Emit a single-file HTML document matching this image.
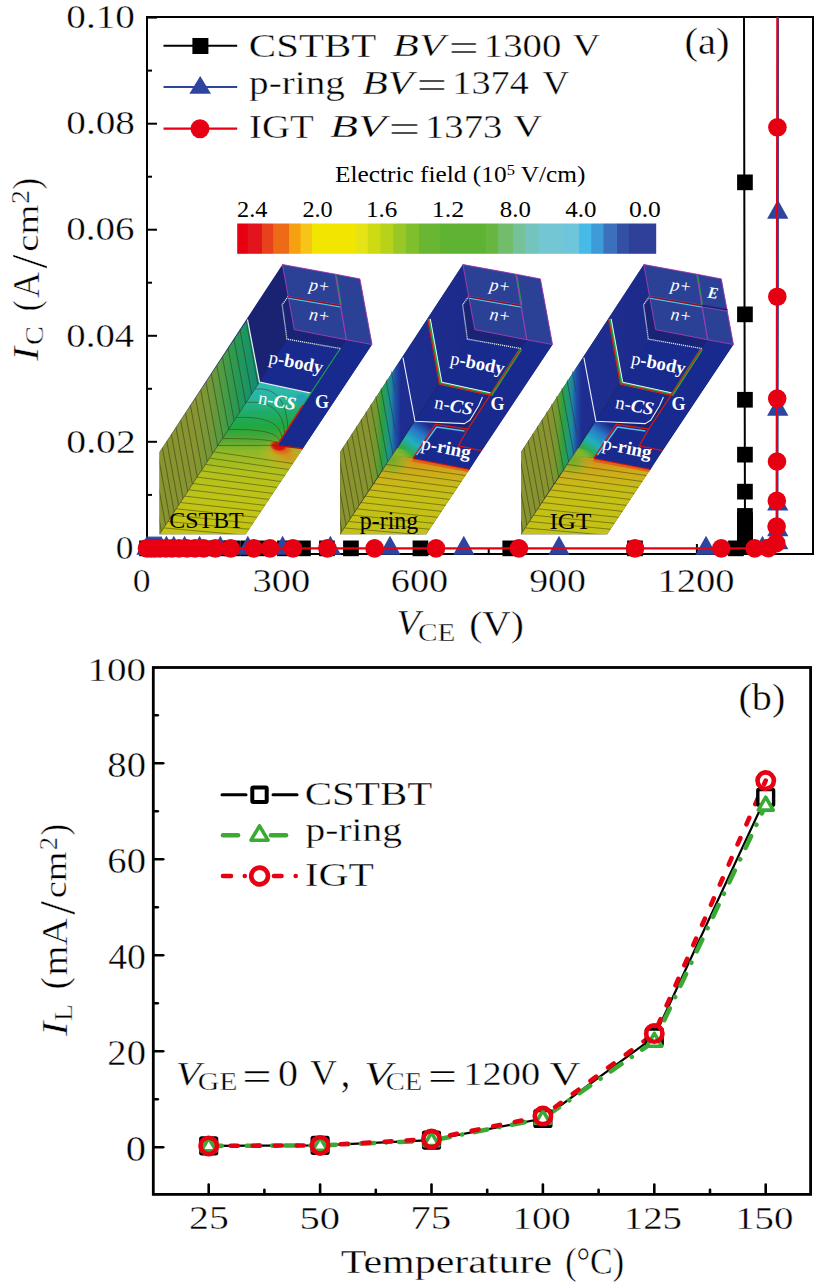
<!DOCTYPE html><html><head><meta charset="utf-8"><style>html,body{margin:0;padding:0;background:#fff;}svg{display:block;font-family:"Liberation Serif",serif;}</style></head><body><svg width="814" height="1282" viewBox="0 0 814 1282">
<rect width="814" height="1282" fill="#fff"/>
<defs><linearGradient id="lfa" gradientUnits="userSpaceOnUse" x1="159.6" y1="0" x2="262" y2="0"><stop offset="0" stop-color="#8a9330"/><stop offset="0.35" stop-color="#879532"/><stop offset="0.5" stop-color="#74983a"/><stop offset="0.62" stop-color="#4c9c44"/><stop offset="0.74" stop-color="#2a9a52"/><stop offset="0.86" stop-color="#1a9468"/><stop offset="1" stop-color="#128a78"/></linearGradient><linearGradient id="ffa" gradientUnits="userSpaceOnUse" x1="0" y1="534.2" x2="0" y2="386"><stop offset="0" stop-color="#c4c412"/><stop offset="0.22" stop-color="#c0c418"/><stop offset="0.42" stop-color="#b2c01e"/><stop offset="0.56" stop-color="#90b828"/><stop offset="0.64" stop-color="#52a836"/><stop offset="0.72" stop-color="#22a840"/><stop offset="0.82" stop-color="#20ac68"/><stop offset="0.92" stop-color="#28b6a0"/><stop offset="1" stop-color="#30bab0"/></linearGradient><radialGradient id="hsa" gradientUnits="userSpaceOnUse" cx="280" cy="449" r="26" gradientTransform="translate(280 449) scale(1 0.62) translate(-280 -449)"><stop offset="0" stop-color="#d01010"/><stop offset="0.22" stop-color="#d41414"/><stop offset="0.36" stop-color="#e04a18" stop-opacity="0.95"/><stop offset="0.6" stop-color="#d8a020" stop-opacity="0.6"/><stop offset="1" stop-color="#c8c020" stop-opacity="0"/></radialGradient><clipPath id="cfa"><polygon points="159.6,534.2 245.8,534.2 372.0,344.5 294.3,329.6"/></clipPath><clipPath id="cla"><polygon points="159.6,451.9 159.6,534.2 294.3,329.6 282.4,264.5"/></clipPath></defs>
<polygon points="159.6,534.2 159.6,451.9 282.4,264.5 359.9,278.9 372.0,344.5 245.8,534.2" fill="#1a2372"/>
<polygon points="159.6,451.9 159.6,534.2 259.5,382.1 247.5,319.5" fill="url(#lfa)"/>
<polygon points="159.6,534.2 245.8,534.2 303.1,448.2 277.0,445.5 311.0,393.2 259.5,382.1" fill="url(#ffa)"/>
<ellipse cx="301" cy="399" rx="6" ry="5" fill="#2a90d0" opacity="0.45" clip-path="url(#cfa)"/>
<radialGradient id="h1a"><stop offset="0" stop-color="#e08a1c" stop-opacity="0.85"/><stop offset="0.5" stop-color="#d8a820" stop-opacity="0.5"/><stop offset="1" stop-color="#c8c020" stop-opacity="0"/></radialGradient>
<radialGradient id="h2a"><stop offset="0" stop-color="#e04418" stop-opacity="1"/><stop offset="0.6" stop-color="#e06a1a" stop-opacity="0.7"/><stop offset="1" stop-color="#e09020" stop-opacity="0"/></radialGradient>
<radialGradient id="h3a"><stop offset="0" stop-color="#d00c10" stop-opacity="1"/><stop offset="0.65" stop-color="#d41410" stop-opacity="0.95"/><stop offset="1" stop-color="#d83010" stop-opacity="0"/></radialGradient>
<g clip-path="url(#cfa)">
<ellipse cx="288" cy="456" rx="31" ry="17" fill="url(#h1a)" transform="rotate(12 288 456)"/>
<ellipse cx="281" cy="448.5" rx="14" ry="8" fill="url(#h2a)" transform="rotate(10 281 448.5)"/>
<ellipse cx="278.5" cy="446" rx="9" ry="5.5" fill="url(#h3a)" transform="rotate(10 278.5 446)"/>
</g>
<g stroke="#3c3c0c" stroke-width="0.7" opacity="0.75" clip-path="url(#cfa)"><line x1="135.6" y1="538.6" x2="305.6" y2="553.1"/><line x1="131.5" y1="544.8" x2="301.5" y2="559.2"/><line x1="143.8" y1="526.1" x2="313.8" y2="541.4"/><line x1="148.0" y1="519.6" x2="318.0" y2="535.8"/><line x1="152.1" y1="513.2" x2="322.1" y2="530.2"/><line x1="156.3" y1="506.7" x2="326.3" y2="524.6"/><line x1="160.5" y1="500.3" x2="330.5" y2="519.0"/><line x1="164.7" y1="493.8" x2="334.7" y2="513.4"/><line x1="168.8" y1="487.4" x2="338.8" y2="507.8"/><line x1="173.0" y1="481.0" x2="343.0" y2="502.2"/><line x1="177.2" y1="474.5" x2="347.2" y2="496.6"/><line x1="181.4" y1="468.1" x2="351.4" y2="491.0"/><line x1="185.5" y1="461.6" x2="355.5" y2="485.4"/><line x1="189.7" y1="455.2" x2="359.7" y2="479.8"/><line x1="193.9" y1="448.8" x2="363.9" y2="474.2"/><path d="M193.1,442.5 L218.1,445.5 Q275.3,445.5 277.3,445.1" fill="none"/><path d="M197.7,435.5 L222.7,438.5 Q276.1,438.5 278.1,443.8" fill="none"/><path d="M203.6,426.5 L228.6,429.5 Q277.7,428.5 279.7,441.3" fill="none"/><path d="M211.5,414.5 L236.5,417.5 Q279.9,415.5 281.9,438.0" fill="none"/><path d="M221.5,399.4 L246.5,402.4 Q282.7,399.4 284.7,433.8" fill="none"/><path d="M230.3,386.0 L255.3,389.0 Q285.9,386.0 287.9,428.8" fill="none"/></g>
<clipPath id="clla"><polygon points="159.6,451.9 159.6,534.2 259.5,382.1 247.5,319.5"/></clipPath>
<g stroke="#2c3410" stroke-width="0.7" opacity="0.75" clip-path="url(#clla)"><line x1="163.0" y1="540" x2="109.9" y2="250.2"/><line x1="168.3" y1="540" x2="115.2" y2="250.2"/><line x1="173.7" y1="540" x2="120.6" y2="250.2"/><line x1="179.3" y1="540" x2="126.2" y2="250.2"/><line x1="184.9" y1="540" x2="131.8" y2="250.2"/><line x1="190.7" y1="540" x2="137.6" y2="250.2"/><line x1="196.6" y1="540" x2="143.5" y2="250.2"/><line x1="202.6" y1="540" x2="149.5" y2="250.2"/><line x1="208.8" y1="540" x2="155.7" y2="250.2"/><line x1="215.1" y1="540" x2="162.0" y2="250.2"/><line x1="221.6" y1="540" x2="168.5" y2="250.2"/><line x1="228.2" y1="540" x2="175.1" y2="250.2"/><line x1="234.9" y1="540" x2="181.8" y2="250.2"/><line x1="241.8" y1="540" x2="188.7" y2="250.2"/><line x1="248.8" y1="540" x2="195.7" y2="250.2"/><line x1="256.0" y1="540" x2="202.9" y2="250.2"/><line x1="263.3" y1="540" x2="210.2" y2="250.2"/><line x1="270.8" y1="540" x2="217.7" y2="250.2"/><line x1="278.5" y1="540" x2="225.4" y2="250.2"/><line x1="286.4" y1="540" x2="233.3" y2="250.2"/><line x1="294.4" y1="540" x2="241.3" y2="250.2"/><line x1="302.6" y1="540" x2="249.5" y2="250.2"/><line x1="310.9" y1="540" x2="257.8" y2="250.2"/><line x1="319.5" y1="540" x2="266.4" y2="250.2"/><line x1="328.2" y1="540" x2="275.1" y2="250.2"/><line x1="337.2" y1="540" x2="284.1" y2="250.2"/></g>
<line x1="159.6" y1="534.2" x2="259.5" y2="382.1" stroke="#2a3010" stroke-width="0.6" opacity="0.6"/>
<polygon points="287.5,339.1 340.3,348.5 311.0,393.2 259.5,382.1" fill="#182a8e"/>
<polygon points="346.4,339.8 372.0,344.5 303.1,448.2 277.0,445.5 340.3,348.5" fill="#182a8e"/>
<polyline points="247.5,319.5 259.5,382.1 311.0,393.2" fill="none" stroke="#e8f0f0" stroke-width="1.2"/>
<line x1="340.3" y1="348.5" x2="303" y2="405" stroke="#20a040" stroke-width="1.2"/>
<line x1="303" y1="405" x2="277" y2="445.5" stroke="#d02010" stroke-width="1.4"/>
<line x1="277" y1="445.5" x2="303" y2="448.5" stroke="#b01010" stroke-width="1.6"/>
<polygon points="288.2,296.5 282.2,304.6 286.9,339.1 340.3,348.5 346.4,339.8 294.3,329.6" fill="#1a2476"/>
<polyline points="288.2,296.5 282.2,304.6 286.9,339.1 340.3,348.5" fill="none" stroke="#d8e8e8" stroke-width="1.3" stroke-dasharray="1.2 0.8"/>
<polygon points="282.4,264.5 335.5,274.2 340.3,305.3 288.2,296.5" fill="#2b4196" stroke="#a83cb4" stroke-width="0.9"/>
<polygon points="288.2,296.5 340.3,305.3 346.4,339.8 294.3,329.6" fill="#2b4196" stroke="#a83cb4" stroke-width="0.9"/>
<polygon points="335.5,274.2 359.9,278.9 372.0,344.5 346.4,339.8" fill="#2b4196" stroke="#a83cb4" stroke-width="0.9"/>
<line x1="288.2" y1="296.8" x2="340.3" y2="305.6" stroke="#8a1010" stroke-width="1.2"/>
<line x1="288.5" y1="298.3" x2="340.3" y2="307" stroke="#50d0f0" stroke-width="1.1"/>
<line x1="336.5" y1="276" x2="341.3" y2="305" stroke="#20a040" stroke-width="0.9"/>
<text x="308.5" y="290" fill="#fff" font-family="Liberation Serif" font-size="17.5" font-style="italic" textLength="21" lengthAdjust="spacingAndGlyphs" transform="rotate(8 308.5 290)">p+</text>
<text x="308.5" y="319.5" fill="#fff" font-family="Liberation Serif" font-size="17.5" font-style="italic" textLength="21" lengthAdjust="spacingAndGlyphs" transform="rotate(8 308.5 319.5)">n+</text>
<text x="268" y="363" fill="#fff" font-family="Liberation Serif" font-size="18.5" font-weight="bold" textLength="55" lengthAdjust="spacingAndGlyphs" transform="rotate(11 268 363)"><tspan font-weight="normal">p</tspan>-body</text>
<text x="257.5" y="403.5" fill="#fff" font-family="Liberation Serif" font-size="18.5" textLength="38" lengthAdjust="spacingAndGlyphs" transform="rotate(10.5 257.5 403.5)">n-<tspan font-weight="bold" font-style="italic">CS</tspan></text>
<text x="315" y="407.5" fill="#fff" font-family="Liberation Serif" font-size="18" font-weight="bold">G</text>
<defs><linearGradient id="lfb" gradientUnits="userSpaceOnUse" x1="340.1" y1="0" x2="474.8" y2="0"><stop offset="0" stop-color="#8a9330"/><stop offset="0.22" stop-color="#889432"/><stop offset="0.27" stop-color="#6f9a30"/><stop offset="0.31" stop-color="#2ea040"/><stop offset="0.35" stop-color="#1f9a7a"/><stop offset="0.38" stop-color="#1c86a8"/><stop offset="0.41" stop-color="#2050a8"/><stop offset="0.45" stop-color="#1e2e90"/><stop offset="1" stop-color="#1c2a8a"/></linearGradient><linearGradient id="ffb" gradientUnits="userSpaceOnUse" x1="0" y1="534.2" x2="0" y2="460"><stop offset="0" stop-color="#c3c216"/><stop offset="0.5" stop-color="#c5c018"/><stop offset="0.7" stop-color="#c9b81a"/><stop offset="0.85" stop-color="#cfaa1a"/><stop offset="0.95" stop-color="#d6961a"/><stop offset="1" stop-color="#d88a1a"/></linearGradient><radialGradient id="hsb" gradientUnits="userSpaceOnUse" cx="460.5" cy="449" r="26" gradientTransform="translate(460.5 449) scale(1 0.62) translate(-460.5 -449)"><stop offset="0" stop-color="#d01010"/><stop offset="0.22" stop-color="#d41414"/><stop offset="0.36" stop-color="#e04a18" stop-opacity="0.95"/><stop offset="0.6" stop-color="#d8a020" stop-opacity="0.6"/><stop offset="1" stop-color="#c8c020" stop-opacity="0"/></radialGradient><clipPath id="cfb"><polygon points="340.1,534.2 426.3,534.2 552.5,344.5 474.8,329.6"/></clipPath><clipPath id="clb"><polygon points="340.1,451.9 340.1,534.2 474.8,329.6 462.9,264.5"/></clipPath></defs>
<polygon points="340.1,534.2 340.1,451.9 462.9,264.5 540.4,278.9 552.5,344.5 426.3,534.2" fill="#1a2372"/>
<polygon points="340.1,451.9 340.1,534.2 474.8,329.6 462.9,264.5" fill="url(#lfb)"/>
<polygon points="340.1,534.2 426.3,534.2 469.9,468.9 413.1,458.1 392.8,455.4" fill="url(#ffb)"/>
<linearGradient id="trb" gradientUnits="userSpaceOnUse" x1="394.5" y1="457" x2="420.5" y2="420"><stop offset="0" stop-color="#a8c020"/><stop offset="0.25" stop-color="#30a840"/><stop offset="0.5" stop-color="#20b0c0"/><stop offset="0.75" stop-color="#2878c8"/><stop offset="1" stop-color="#1f2c8e"/></linearGradient>
<polygon points="392.8,455.4 413.1,458.1 435.4,424.3 415.1,420.9" fill="url(#trb)"/>
<radialGradient id="gzb" gradientUnits="userSpaceOnUse" cx="392.5" cy="460" r="22"><stop offset="0" stop-color="#60b030" stop-opacity="0.9"/><stop offset="0.5" stop-color="#90b828" stop-opacity="0.6"/><stop offset="1" stop-color="#c0c020" stop-opacity="0"/></radialGradient>
<ellipse cx="392.5" cy="462" rx="24" ry="14" fill="url(#gzb)" clip-path="url(#cfb)"/>
<polygon points="413.1,458.1 469.9,468.9 468.0,472.0 412.0,461.5" fill="#d86018" opacity="0.9"/>
<line x1="413.1" y1="458.1" x2="469.9" y2="468.9" stroke="#d01010" stroke-width="2"/>
<g stroke="#3c3c0c" stroke-width="0.7" opacity="0.75" clip-path="url(#cfb)"><line x1="316.1" y1="538.6" x2="486.1" y2="553.1"/><line x1="312.0" y1="544.8" x2="482.0" y2="559.2"/><line x1="324.3" y1="526.1" x2="494.3" y2="541.4"/><line x1="328.5" y1="519.6" x2="498.5" y2="535.8"/><line x1="332.6" y1="513.2" x2="502.6" y2="530.2"/><line x1="336.8" y1="506.7" x2="506.8" y2="524.6"/><line x1="341.0" y1="500.3" x2="511.0" y2="519.0"/><line x1="345.2" y1="493.8" x2="515.2" y2="513.4"/><line x1="349.3" y1="487.4" x2="519.3" y2="507.8"/><line x1="353.5" y1="481.0" x2="523.5" y2="502.2"/><line x1="357.7" y1="474.5" x2="527.7" y2="496.6"/><line x1="361.9" y1="468.1" x2="531.9" y2="491.0"/><line x1="366.0" y1="461.6" x2="536.0" y2="485.4"/></g>
<clipPath id="cllb"><polygon points="340.1,451.9 340.1,534.2 396.0,449.0 394.5,366.5"/></clipPath>
<g stroke="#2c3410" stroke-width="0.7" opacity="0.75" clip-path="url(#cllb)"><line x1="343.5" y1="540" x2="290.4" y2="250.2"/><line x1="348.8" y1="540" x2="295.7" y2="250.2"/><line x1="354.2" y1="540" x2="301.1" y2="250.2"/><line x1="359.8" y1="540" x2="306.7" y2="250.2"/><line x1="365.4" y1="540" x2="312.3" y2="250.2"/><line x1="371.2" y1="540" x2="318.1" y2="250.2"/><line x1="377.1" y1="540" x2="324.0" y2="250.2"/><line x1="383.1" y1="540" x2="330.0" y2="250.2"/><line x1="389.3" y1="540" x2="336.2" y2="250.2"/><line x1="395.6" y1="540" x2="342.5" y2="250.2"/><line x1="402.1" y1="540" x2="349.0" y2="250.2"/><line x1="408.7" y1="540" x2="355.6" y2="250.2"/><line x1="415.4" y1="540" x2="362.3" y2="250.2"/><line x1="422.3" y1="540" x2="369.2" y2="250.2"/><line x1="429.3" y1="540" x2="376.2" y2="250.2"/><line x1="436.5" y1="540" x2="383.4" y2="250.2"/><line x1="443.8" y1="540" x2="390.7" y2="250.2"/></g>
<line x1="340.1" y1="534.2" x2="440.0" y2="382.1" stroke="#2a3010" stroke-width="0.6" opacity="0.6"/>
<polygon points="413.1,458.1 435.4,424.3 467.8,429.1 458.4,445.9 481.4,450.7 469.9,468.9" fill="#182a8e"/>
<polygon points="415.1,420.9 467.8,423.6 520.8,348.5 468.0,339.1" fill="#182a8e"/>
<polygon points="526.9,339.8 552.5,344.5 481.4,450.7 458.4,445.9 467.8,429.1 520.8,348.5" fill="#182a8e"/>
<polyline points="413.1,458.1 435.4,424.3 467.8,429.1 458.4,445.9 481.4,450.7" fill="none" stroke="#d01818" stroke-width="1.3"/>
<polyline points="416.5,455.0 436.5,427.0 464.5,431.0" fill="none" stroke="#60d0e8" stroke-width="1.4" opacity="0.9"/>
<polyline points="403.0,357.6 415.0,421.3 464.5,423.6 470.0,420.0 478.5,406.0 482.5,397.0" fill="none" stroke="#e8f0f8" stroke-width="1.1" stroke-linejoin="round"/>
<polyline points="429.0,318.9 440.7,383.5 491.5,394.2 520.8,349.0" fill="none" stroke="#20b040" stroke-width="3" opacity="0.9"/>
<polyline points="427.7,318.9 439.3,383.8 491.5,395.5" fill="none" stroke="#d01818" stroke-width="1.3"/>
<polyline points="430.3,318.9 441.8,382.2 490.5,392.8" fill="none" stroke="#e8f8f8" stroke-width="1.0"/>
<line x1="520.8" y1="348.5" x2="467.8" y2="429" stroke="#d02010" stroke-width="1.3"/>
<polygon points="468.7,296.5 462.7,304.6 467.4,339.1 520.8,348.5 526.9,339.8 474.8,329.6" fill="#1a2476"/>
<polyline points="468.7,296.5 462.7,304.6 467.4,339.1 520.8,348.5" fill="none" stroke="#d8e8e8" stroke-width="1.3" stroke-dasharray="1.2 0.8"/>
<polygon points="462.9,264.5 516.0,274.2 520.8,305.3 468.7,296.5" fill="#2b4196" stroke="#a83cb4" stroke-width="0.9"/>
<polygon points="468.7,296.5 520.8,305.3 526.9,339.8 474.8,329.6" fill="#2b4196" stroke="#a83cb4" stroke-width="0.9"/>
<polygon points="516.0,274.2 540.4,278.9 552.5,344.5 526.9,339.8" fill="#2b4196" stroke="#a83cb4" stroke-width="0.9"/>
<line x1="468.7" y1="296.8" x2="520.8" y2="305.6" stroke="#8a1010" stroke-width="1.2"/>
<line x1="469.0" y1="298.3" x2="520.8" y2="307" stroke="#50d0f0" stroke-width="1.1"/>
<line x1="517.0" y1="276" x2="521.8" y2="305" stroke="#20a040" stroke-width="0.9"/>
<text x="489.0" y="290" fill="#fff" font-family="Liberation Serif" font-size="17.5" font-style="italic" textLength="21" lengthAdjust="spacingAndGlyphs" transform="rotate(8 489.0 290)">p+</text>
<text x="489.0" y="319.5" fill="#fff" font-family="Liberation Serif" font-size="17.5" font-style="italic" textLength="21" lengthAdjust="spacingAndGlyphs" transform="rotate(8 489.0 319.5)">n+</text>
<text x="449.5" y="364" fill="#fff" font-family="Liberation Serif" font-size="18.5" font-weight="bold" textLength="55" lengthAdjust="spacingAndGlyphs" transform="rotate(11 449.5 364)"><tspan font-weight="normal">p</tspan>-body</text>
<text x="433.5" y="408" fill="#fff" font-family="Liberation Serif" font-size="18.5" textLength="39" lengthAdjust="spacingAndGlyphs" transform="rotate(10.5 433.5 408)">n-<tspan font-weight="bold" font-style="italic">CS</tspan></text>
<text x="490.5" y="410" fill="#fff" font-family="Liberation Serif" font-size="18" font-weight="bold">G</text>
<text x="420.5" y="449" fill="#fff" font-family="Liberation Serif" font-size="18.5" font-weight="bold" textLength="50" lengthAdjust="spacingAndGlyphs" transform="rotate(11 420.5 449)"><tspan font-weight="normal">p</tspan>-ring</text>
<defs><linearGradient id="lfc" gradientUnits="userSpaceOnUse" x1="521.0" y1="0" x2="655.7" y2="0"><stop offset="0" stop-color="#8a9330"/><stop offset="0.22" stop-color="#889432"/><stop offset="0.27" stop-color="#6f9a30"/><stop offset="0.31" stop-color="#2ea040"/><stop offset="0.35" stop-color="#1f9a7a"/><stop offset="0.38" stop-color="#1c86a8"/><stop offset="0.41" stop-color="#2050a8"/><stop offset="0.45" stop-color="#1e2e90"/><stop offset="1" stop-color="#1c2a8a"/></linearGradient><linearGradient id="ffc" gradientUnits="userSpaceOnUse" x1="0" y1="534.2" x2="0" y2="460"><stop offset="0" stop-color="#c3c216"/><stop offset="0.5" stop-color="#c5c018"/><stop offset="0.7" stop-color="#c9b81a"/><stop offset="0.85" stop-color="#cfaa1a"/><stop offset="0.95" stop-color="#d6961a"/><stop offset="1" stop-color="#d88a1a"/></linearGradient><radialGradient id="hsc" gradientUnits="userSpaceOnUse" cx="641.4" cy="449" r="26" gradientTransform="translate(641.4 449) scale(1 0.62) translate(-641.4 -449)"><stop offset="0" stop-color="#d01010"/><stop offset="0.22" stop-color="#d41414"/><stop offset="0.36" stop-color="#e04a18" stop-opacity="0.95"/><stop offset="0.6" stop-color="#d8a020" stop-opacity="0.6"/><stop offset="1" stop-color="#c8c020" stop-opacity="0"/></radialGradient><clipPath id="cfc"><polygon points="521.0,534.2 607.2,534.2 733.4,344.5 655.7,329.6"/></clipPath><clipPath id="clc"><polygon points="521.0,451.9 521.0,534.2 655.7,329.6 643.8,264.5"/></clipPath></defs>
<polygon points="521.0,534.2 521.0,451.9 643.8,264.5 721.3,278.9 733.4,344.5 607.2,534.2" fill="#1a2372"/>
<polygon points="521.0,451.9 521.0,534.2 655.7,329.6 643.8,264.5" fill="url(#lfc)"/>
<polygon points="521.0,534.2 607.2,534.2 650.8,468.9 594.0,458.1 573.7,455.4" fill="url(#ffc)"/>
<linearGradient id="trc" gradientUnits="userSpaceOnUse" x1="575.4" y1="457" x2="601.4" y2="420"><stop offset="0" stop-color="#a8c020"/><stop offset="0.25" stop-color="#30a840"/><stop offset="0.5" stop-color="#20b0c0"/><stop offset="0.75" stop-color="#2878c8"/><stop offset="1" stop-color="#1f2c8e"/></linearGradient>
<polygon points="573.7,455.4 594.0,458.1 616.3,424.3 596.0,420.9" fill="url(#trc)"/>
<radialGradient id="gzc" gradientUnits="userSpaceOnUse" cx="573.4" cy="460" r="22"><stop offset="0" stop-color="#60b030" stop-opacity="0.9"/><stop offset="0.5" stop-color="#90b828" stop-opacity="0.6"/><stop offset="1" stop-color="#c0c020" stop-opacity="0"/></radialGradient>
<ellipse cx="573.4" cy="462" rx="24" ry="14" fill="url(#gzc)" clip-path="url(#cfc)"/>
<polygon points="594.0,458.1 650.8,468.9 648.9,472.0 592.9,461.5" fill="#d86018" opacity="0.9"/>
<line x1="594.0" y1="458.1" x2="650.8" y2="468.9" stroke="#d01010" stroke-width="2"/>
<g stroke="#3c3c0c" stroke-width="0.7" opacity="0.75" clip-path="url(#cfc)"><line x1="497.0" y1="538.6" x2="667.0" y2="553.1"/><line x1="492.9" y1="544.8" x2="662.9" y2="559.2"/><line x1="505.2" y1="526.1" x2="675.2" y2="541.4"/><line x1="509.4" y1="519.6" x2="679.4" y2="535.8"/><line x1="513.5" y1="513.2" x2="683.5" y2="530.2"/><line x1="517.7" y1="506.7" x2="687.7" y2="524.6"/><line x1="521.9" y1="500.3" x2="691.9" y2="519.0"/><line x1="526.1" y1="493.8" x2="696.1" y2="513.4"/><line x1="530.2" y1="487.4" x2="700.2" y2="507.8"/><line x1="534.4" y1="481.0" x2="704.4" y2="502.2"/><line x1="538.6" y1="474.5" x2="708.6" y2="496.6"/><line x1="542.8" y1="468.1" x2="712.8" y2="491.0"/><line x1="546.9" y1="461.6" x2="716.9" y2="485.4"/></g>
<clipPath id="cllc"><polygon points="521.0,451.9 521.0,534.2 576.9,449.0 575.4,366.5"/></clipPath>
<g stroke="#2c3410" stroke-width="0.7" opacity="0.75" clip-path="url(#cllc)"><line x1="524.4" y1="540" x2="471.3" y2="250.2"/><line x1="529.7" y1="540" x2="476.6" y2="250.2"/><line x1="535.1" y1="540" x2="482.0" y2="250.2"/><line x1="540.7" y1="540" x2="487.6" y2="250.2"/><line x1="546.3" y1="540" x2="493.2" y2="250.2"/><line x1="552.1" y1="540" x2="499.0" y2="250.2"/><line x1="558.0" y1="540" x2="504.9" y2="250.2"/><line x1="564.0" y1="540" x2="510.9" y2="250.2"/><line x1="570.2" y1="540" x2="517.1" y2="250.2"/><line x1="576.5" y1="540" x2="523.4" y2="250.2"/><line x1="583.0" y1="540" x2="529.9" y2="250.2"/><line x1="589.6" y1="540" x2="536.5" y2="250.2"/><line x1="596.3" y1="540" x2="543.2" y2="250.2"/><line x1="603.2" y1="540" x2="550.1" y2="250.2"/><line x1="610.2" y1="540" x2="557.1" y2="250.2"/><line x1="617.4" y1="540" x2="564.3" y2="250.2"/><line x1="624.7" y1="540" x2="571.6" y2="250.2"/></g>
<line x1="521.0" y1="534.2" x2="620.9" y2="382.1" stroke="#2a3010" stroke-width="0.6" opacity="0.6"/>
<polygon points="594.0,458.1 616.3,424.3 648.7,429.1 639.3,445.9 662.3,450.7 650.8,468.9" fill="#182a8e"/>
<polygon points="596.0,420.9 648.7,423.6 701.7,348.5 648.9,339.1" fill="#182a8e"/>
<polygon points="707.8,339.8 733.4,344.5 662.3,450.7 639.3,445.9 648.7,429.1 701.7,348.5" fill="#182a8e"/>
<polyline points="594.0,458.1 616.3,424.3 648.7,429.1 639.3,445.9 662.3,450.7" fill="none" stroke="#d01818" stroke-width="1.3"/>
<polyline points="597.4,455.0 617.4,427.0 645.4,431.0" fill="none" stroke="#60d0e8" stroke-width="1.4" opacity="0.9"/>
<polyline points="583.9,357.6 595.9,421.3 645.4,423.6 650.9,420.0 659.4,406.0 663.4,397.0" fill="none" stroke="#e8f0f8" stroke-width="1.1" stroke-linejoin="round"/>
<polyline points="609.9,318.9 621.6,383.5 672.4,394.2 701.7,349.0" fill="none" stroke="#20b040" stroke-width="3" opacity="0.9"/>
<polyline points="608.6,318.9 620.2,383.8 672.4,395.5" fill="none" stroke="#d01818" stroke-width="1.3"/>
<polyline points="611.2,318.9 622.7,382.2 671.4,392.8" fill="none" stroke="#e8f8f8" stroke-width="1.0"/>
<line x1="701.7" y1="348.5" x2="648.7" y2="429" stroke="#d02010" stroke-width="1.3"/>
<polygon points="649.6,296.5 643.6,304.6 648.3,339.1 701.7,348.5 707.8,339.8 655.7,329.6" fill="#1a2476"/>
<polyline points="649.6,296.5 643.6,304.6 648.3,339.1 701.7,348.5" fill="none" stroke="#d8e8e8" stroke-width="1.3" stroke-dasharray="1.2 0.8"/>
<polygon points="643.8,264.5 696.9,274.2 701.7,305.3 649.6,296.5" fill="#2b4196" stroke="#a83cb4" stroke-width="0.9"/>
<polygon points="649.6,296.5 701.7,305.3 707.8,339.8 655.7,329.6" fill="#2b4196" stroke="#a83cb4" stroke-width="0.9"/>
<polygon points="696.9,274.2 721.3,278.9 733.4,344.5 707.8,339.8" fill="#2b4196" stroke="#a83cb4" stroke-width="0.9"/>
<line x1="649.5999999999999" y1="296.8" x2="701.7" y2="305.6" stroke="#8a1010" stroke-width="1.2"/>
<line x1="649.9" y1="298.3" x2="701.7" y2="307" stroke="#50d0f0" stroke-width="1.1"/>
<line x1="697.9" y1="276" x2="702.7" y2="305" stroke="#20a040" stroke-width="0.9"/>
<line x1="701.9" y1="305.5" x2="727.4" y2="309.8" stroke="#1a2070" stroke-width="1.6"/>
<line x1="702.4" y1="307" x2="727.7" y2="311.3" stroke="#a83cb4" stroke-width="0.8"/>
<text x="669.9" y="290" fill="#fff" font-family="Liberation Serif" font-size="17.5" font-style="italic" textLength="21" lengthAdjust="spacingAndGlyphs" transform="rotate(8 669.9 290)">p+</text>
<text x="669.9" y="319.5" fill="#fff" font-family="Liberation Serif" font-size="17.5" font-style="italic" textLength="21" lengthAdjust="spacingAndGlyphs" transform="rotate(8 669.9 319.5)">n+</text>
<text x="630.4" y="364" fill="#fff" font-family="Liberation Serif" font-size="18.5" font-weight="bold" textLength="55" lengthAdjust="spacingAndGlyphs" transform="rotate(11 630.4 364)"><tspan font-weight="normal">p</tspan>-body</text>
<text x="614.4" y="408" fill="#fff" font-family="Liberation Serif" font-size="18.5" textLength="39" lengthAdjust="spacingAndGlyphs" transform="rotate(10.5 614.4 408)">n-<tspan font-weight="bold" font-style="italic">CS</tspan></text>
<text x="671.4" y="410" fill="#fff" font-family="Liberation Serif" font-size="18" font-weight="bold">G</text>
<text x="601.4" y="449" fill="#fff" font-family="Liberation Serif" font-size="18.5" font-weight="bold" textLength="50" lengthAdjust="spacingAndGlyphs" transform="rotate(11 601.4 449)"><tspan font-weight="normal">p</tspan>-ring</text>
<text x="706.9" y="297.5" fill="#fff" font-family="Liberation Serif" font-size="16" font-weight="bold" font-style="italic" transform="rotate(8 706.9 297.5)">E</text>
<defs><linearGradient id="cbar" x1="0" x2="1" y1="0" y2="0"><stop offset="0.0005" stop-color="#e60012"/><stop offset="0.0243" stop-color="#e60012"/><stop offset="0.0253" stop-color="#e2151c"/><stop offset="0.0582" stop-color="#e2151c"/><stop offset="0.0592" stop-color="#e8421c"/><stop offset="0.0859" stop-color="#e8421c"/><stop offset="0.0869" stop-color="#ed6b17"/><stop offset="0.1229" stop-color="#ed6b17"/><stop offset="0.1239" stop-color="#f4a00f"/><stop offset="0.1506" stop-color="#f4a00f"/><stop offset="0.1516" stop-color="#f7c517"/><stop offset="0.1783" stop-color="#f7c517"/><stop offset="0.1793" stop-color="#f2e500"/><stop offset="0.283" stop-color="#f2e500"/><stop offset="0.284" stop-color="#e5e216"/><stop offset="0.3107" stop-color="#e5e216"/><stop offset="0.3117" stop-color="#cfdb12"/><stop offset="0.3415" stop-color="#cfdb12"/><stop offset="0.3425" stop-color="#b6d21a"/><stop offset="0.3723" stop-color="#b6d21a"/><stop offset="0.3733" stop-color="#99c826"/><stop offset="0.4031" stop-color="#99c826"/><stop offset="0.4041" stop-color="#80bf2c"/><stop offset="0.4339" stop-color="#80bf2c"/><stop offset="0.4349" stop-color="#68b631"/><stop offset="0.4835" stop-color="#68b631"/><stop offset="0.4845" stop-color="#5fb332"/><stop offset="0.5933" stop-color="#5fb332"/><stop offset="0.5943" stop-color="#66b640"/><stop offset="0.6222" stop-color="#66b640"/><stop offset="0.6232" stop-color="#72bd6c"/><stop offset="0.6577" stop-color="#72bd6c"/><stop offset="0.6587" stop-color="#74c19a"/><stop offset="0.6866" stop-color="#74c19a"/><stop offset="0.6876" stop-color="#72c4bc"/><stop offset="0.7188" stop-color="#72c4bc"/><stop offset="0.7198" stop-color="#73c6d3"/><stop offset="0.7771" stop-color="#73c6d3"/><stop offset="0.7781" stop-color="#6ec5dc"/><stop offset="0.8157" stop-color="#6ec5dc"/><stop offset="0.8167" stop-color="#47bbe8"/><stop offset="0.8448" stop-color="#47bbe8"/><stop offset="0.8458" stop-color="#3d9cd8"/><stop offset="0.8737" stop-color="#3d9cd8"/><stop offset="0.8747" stop-color="#3a70bc"/><stop offset="0.9059" stop-color="#3a70bc"/><stop offset="0.9069" stop-color="#3350a5"/><stop offset="0.9351" stop-color="#3350a5"/><stop offset="0.9361" stop-color="#2f409a"/><stop offset="0.9995" stop-color="#2f409a"/></linearGradient></defs>
<rect x="237.2" y="223.5" width="419" height="30.3" fill="url(#cbar)"/>
<g stroke="#000" stroke-width="2.0" fill="none">
<rect x="147" y="17" width="666" height="537" />
<line x1="147" y1="547.9" x2="157" y2="547.9"/>
<line x1="147" y1="494.9" x2="152" y2="494.9"/>
<line x1="147" y1="441.8" x2="157" y2="441.8"/>
<line x1="147" y1="388.8" x2="152" y2="388.8"/>
<line x1="147" y1="335.8" x2="157" y2="335.8"/>
<line x1="147" y1="282.7" x2="152" y2="282.7"/>
<line x1="147" y1="229.7" x2="157" y2="229.7"/>
<line x1="147" y1="176.7" x2="152" y2="176.7"/>
<line x1="147" y1="123.7" x2="157" y2="123.7"/>
<line x1="147" y1="70.6" x2="152" y2="70.6"/>
<line x1="147" y1="17.6" x2="157" y2="17.6"/>
<line x1="211.1" y1="554" x2="211.1" y2="549"/>
<line x1="280.5" y1="554" x2="280.5" y2="544"/>
<line x1="349.9" y1="554" x2="349.9" y2="549"/>
<line x1="419.3" y1="554" x2="419.3" y2="544"/>
<line x1="488.7" y1="554" x2="488.7" y2="549"/>
<line x1="558.1" y1="554" x2="558.1" y2="544"/>
<line x1="627.5" y1="554" x2="627.5" y2="549"/>
<line x1="696.9" y1="554" x2="696.9" y2="544"/>
<line x1="766.3" y1="554" x2="766.3" y2="549"/>
</g>
<polyline points="728,548.4 736,548.4 745,544.4 745,536 744.5,300 744,17" fill="none" stroke="#000" stroke-width="2"/>
<rect x="139.2" y="540.5" width="15.7" height="15.7" fill="#000"/>
<rect x="142.2" y="540.5" width="15.7" height="15.7" fill="#000"/>
<rect x="145.2" y="540.5" width="15.7" height="15.7" fill="#000"/>
<rect x="149.2" y="540.5" width="15.7" height="15.7" fill="#000"/>
<rect x="153.2" y="540.5" width="15.7" height="15.7" fill="#000"/>
<rect x="158.2" y="540.5" width="15.7" height="15.7" fill="#000"/>
<rect x="164.2" y="540.5" width="15.7" height="15.7" fill="#000"/>
<rect x="171.2" y="540.5" width="15.7" height="15.7" fill="#000"/>
<rect x="179.2" y="540.5" width="15.7" height="15.7" fill="#000"/>
<rect x="188.2" y="540.5" width="15.7" height="15.7" fill="#000"/>
<rect x="198.2" y="540.5" width="15.7" height="15.7" fill="#000"/>
<rect x="210.2" y="540.5" width="15.7" height="15.7" fill="#000"/>
<rect x="224.2" y="540.5" width="15.7" height="15.7" fill="#000"/>
<rect x="240.2" y="540.5" width="15.7" height="15.7" fill="#000"/>
<rect x="255.2" y="540.5" width="15.7" height="15.7" fill="#000"/>
<rect x="277.1" y="540.5" width="15.7" height="15.7" fill="#000"/>
<rect x="295.1" y="540.5" width="15.7" height="15.7" fill="#000"/>
<rect x="319.1" y="540.5" width="15.7" height="15.7" fill="#000"/>
<rect x="343.1" y="540.5" width="15.7" height="15.7" fill="#000"/>
<rect x="412.6" y="540.5" width="15.7" height="15.7" fill="#000"/>
<rect x="502.4" y="540.5" width="15.7" height="15.7" fill="#000"/>
<rect x="627.1" y="540.5" width="15.7" height="15.7" fill="#000"/>
<rect x="728.1" y="540.5" width="15.7" height="15.7" fill="#000"/>
<rect x="737.1" y="539.1" width="15.7" height="15.7" fill="#000"/>
<rect x="737.1" y="536.1" width="15.7" height="15.7" fill="#000"/>
<rect x="737.1" y="532.1" width="15.7" height="15.7" fill="#000"/>
<rect x="737.1" y="528.1" width="15.7" height="15.7" fill="#000"/>
<rect x="737.1" y="524.1" width="15.7" height="15.7" fill="#000"/>
<rect x="737.1" y="520.1" width="15.7" height="15.7" fill="#000"/>
<rect x="737.1" y="516.1" width="15.7" height="15.7" fill="#000"/>
<rect x="737.1" y="512.1" width="15.7" height="15.7" fill="#000"/>
<rect x="737.1" y="508.1" width="15.7" height="15.7" fill="#000"/>
<rect x="737.1" y="483.8" width="15.7" height="15.7" fill="#000"/>
<rect x="737.1" y="446.8" width="15.7" height="15.7" fill="#000"/>
<rect x="737.1" y="391.9" width="15.7" height="15.7" fill="#000"/>
<rect x="737.1" y="306.5" width="15.7" height="15.7" fill="#000"/>
<rect x="737.1" y="174.5" width="15.7" height="15.7" fill="#000"/>
<polyline points="760,548.4 768,548.4 777.5,542.4 778.0,300 778.1,17" fill="none" stroke="#2e45a0" stroke-width="1.8"/>
<polygon points="147.0,535.7 157.7,554.7 136.3,554.7" fill="#2e45a0"/>
<polygon points="149.0,535.7 159.7,554.7 138.3,554.7" fill="#2e45a0"/>
<polygon points="151.0,535.7 161.7,554.7 140.3,554.7" fill="#2e45a0"/>
<polygon points="153.0,535.7 163.7,554.7 142.3,554.7" fill="#2e45a0"/>
<polygon points="155.0,535.7 165.7,554.7 144.3,554.7" fill="#2e45a0"/>
<polygon points="157.0,535.7 167.7,554.7 146.3,554.7" fill="#2e45a0"/>
<polygon points="159.0,535.7 169.7,554.7 148.3,554.7" fill="#2e45a0"/>
<polygon points="161.0,535.7 171.7,554.7 150.3,554.7" fill="#2e45a0"/>
<polygon points="166.4,535.7 177.1,554.7 155.8,554.7" fill="#2e45a0"/>
<polygon points="173.8,535.7 184.5,554.7 163.2,554.7" fill="#2e45a0"/>
<polygon points="184.6,535.7 195.2,554.7 173.9,554.7" fill="#2e45a0"/>
<polygon points="199.6,535.7 210.2,554.7 188.9,554.7" fill="#2e45a0"/>
<polygon points="220.3,535.7 231.0,554.7 209.7,554.7" fill="#2e45a0"/>
<polygon points="247.8,535.7 258.4,554.7 237.2,554.7" fill="#2e45a0"/>
<polygon points="282.6,535.7 293.2,554.7 272.0,554.7" fill="#2e45a0"/>
<polygon points="330.4,535.7 341.0,554.7 319.8,554.7" fill="#2e45a0"/>
<polygon points="390.0,535.7 400.6,554.7 379.4,554.7" fill="#2e45a0"/>
<polygon points="463.8,535.7 474.4,554.7 453.2,554.7" fill="#2e45a0"/>
<polygon points="559.0,535.7 569.6,554.7 548.4,554.7" fill="#2e45a0"/>
<polygon points="706.0,535.7 716.6,554.7 695.4,554.7" fill="#2e45a0"/>
<polygon points="762.5,535.7 773.1,554.7 751.9,554.7" fill="#2e45a0"/>
<polygon points="777.8,530.3 788.4,549.3 767.1,549.3" fill="#2e45a0"/>
<polygon points="777.8,517.3 788.4,536.3 767.1,536.3" fill="#2e45a0"/>
<polygon points="777.8,491.6 788.4,510.6 767.1,510.6" fill="#2e45a0"/>
<polygon points="777.8,396.7 788.4,415.7 767.1,415.7" fill="#2e45a0"/>
<polygon points="777.8,199.8 788.4,218.8 767.1,218.8" fill="#2e45a0"/>
<polyline points="147,548.4 768,548.4 776.2,543.2 776.6,526.6 777.3,17" fill="none" stroke="#e60012" stroke-width="2.1"/>
<circle cx="147.0" cy="548.4" r="9.3" fill="#e60012"/>
<circle cx="151.0" cy="548.4" r="9.3" fill="#e60012"/>
<circle cx="155.0" cy="548.4" r="9.3" fill="#e60012"/>
<circle cx="160.0" cy="548.4" r="9.3" fill="#e60012"/>
<circle cx="166.0" cy="548.4" r="9.3" fill="#e60012"/>
<circle cx="172.0" cy="548.4" r="9.3" fill="#e60012"/>
<circle cx="179.0" cy="548.4" r="9.3" fill="#e60012"/>
<circle cx="187.0" cy="548.4" r="9.3" fill="#e60012"/>
<circle cx="195.0" cy="548.4" r="9.3" fill="#e60012"/>
<circle cx="203.6" cy="548.4" r="9.3" fill="#e60012"/>
<circle cx="215.4" cy="548.4" r="9.3" fill="#e60012"/>
<circle cx="230.7" cy="548.4" r="9.3" fill="#e60012"/>
<circle cx="253.7" cy="548.4" r="9.3" fill="#e60012"/>
<circle cx="270.0" cy="548.4" r="9.3" fill="#e60012"/>
<circle cx="293.0" cy="548.4" r="9.3" fill="#e60012"/>
<circle cx="327.4" cy="548.4" r="9.3" fill="#e60012"/>
<circle cx="374.6" cy="548.4" r="9.3" fill="#e60012"/>
<circle cx="436.0" cy="548.4" r="9.3" fill="#e60012"/>
<circle cx="518.9" cy="548.4" r="9.3" fill="#e60012"/>
<circle cx="635.0" cy="548.4" r="9.3" fill="#e60012"/>
<circle cx="721.3" cy="548.4" r="9.3" fill="#e60012"/>
<circle cx="754.7" cy="548.4" r="9.3" fill="#e60012"/>
<circle cx="768.2" cy="548.1" r="9.3" fill="#e60012"/>
<circle cx="776.2" cy="543.2" r="9.3" fill="#e60012"/>
<circle cx="776.6" cy="526.6" r="9.3" fill="#e60012"/>
<circle cx="776.8" cy="500.8" r="9.3" fill="#e60012"/>
<circle cx="777.0" cy="461.5" r="9.3" fill="#e60012"/>
<circle cx="777.2" cy="398.6" r="9.3" fill="#e60012"/>
<circle cx="777.3" cy="296.7" r="9.3" fill="#e60012"/>
<circle cx="777.4" cy="127.3" r="9.3" fill="#e60012"/>
<line x1="163.5" y1="45.8" x2="237.2" y2="45.8" stroke="#000" stroke-width="2"/>
<rect x="192.4" y="38.0" width="16" height="16" fill="#000"/>
<line x1="163.5" y1="87.1" x2="237.2" y2="87.1" stroke="#2e45a0" stroke-width="2"/>
<polygon points="200.2,76 211,93.7 189.4,93.7" fill="#2e45a0"/>
<line x1="163.5" y1="128.6" x2="237.2" y2="128.6" stroke="#e60012" stroke-width="2.2"/>
<circle cx="200.0" cy="128.8" r="9.5" fill="#e60012"/>
<g stroke="#000" stroke-width="2.8" fill="none">
<rect x="153.3" y="667.5" width="657.3" height="526.9"/>
</g><g stroke="#000" stroke-width="2.6" stroke-linecap="round">
<line x1="154" y1="1147.3" x2="163.2" y2="1147.3"/>
<line x1="154" y1="1099.3" x2="157.8" y2="1099.3"/>
<line x1="154" y1="1051.3" x2="163.2" y2="1051.3"/>
<line x1="154" y1="1003.3" x2="157.8" y2="1003.3"/>
<line x1="154" y1="955.3" x2="163.2" y2="955.3"/>
<line x1="154" y1="907.3" x2="157.8" y2="907.3"/>
<line x1="154" y1="859.3" x2="163.2" y2="859.3"/>
<line x1="154" y1="811.3" x2="157.8" y2="811.3"/>
<line x1="154" y1="763.3" x2="163.2" y2="763.3"/>
<line x1="154" y1="715.3" x2="157.8" y2="715.3"/>
<line x1="208.7" y1="1193.5" x2="208.7" y2="1184.5"/>
<line x1="264.4" y1="1193.5" x2="264.4" y2="1189.7"/>
<line x1="320.1" y1="1193.5" x2="320.1" y2="1184.5"/>
<line x1="375.8" y1="1193.5" x2="375.8" y2="1189.7"/>
<line x1="431.5" y1="1193.5" x2="431.5" y2="1184.5"/>
<line x1="487.2" y1="1193.5" x2="487.2" y2="1189.7"/>
<line x1="542.9" y1="1193.5" x2="542.9" y2="1184.5"/>
<line x1="598.6" y1="1193.5" x2="598.6" y2="1189.7"/>
<line x1="654.3" y1="1193.5" x2="654.3" y2="1184.5"/>
<line x1="710.0" y1="1193.5" x2="710.0" y2="1189.7"/>
<line x1="765.7" y1="1193.5" x2="765.7" y2="1184.5"/>
</g>
<polyline points="208.7,1145.9 320.1,1145.4 431.5,1140.1 542.9,1118.5 654.3,1036.9 765.7,797.4" fill="none" stroke="#000" stroke-width="2.2"/>
<polyline points="208.7,1145.9 320.1,1145.4 431.5,1140.6 542.9,1118.5 654.3,1041.2 765.7,805.1" fill="none" stroke="#3aaa35" stroke-width="4.6" stroke-dasharray="13 12.5 0.1 12.5" stroke-linecap="round"/>
<polyline points="208.7,1145.9 320.1,1145.4 431.5,1139.1 542.9,1116.1 654.3,1033.5 765.7,780.6" fill="none" stroke="#e60012" stroke-width="4.6" stroke-dasharray="7 15" stroke-linecap="round"/>
<rect x="200.8" y="1138.0" width="15.8" height="15.8" fill="#fff" stroke="#000" stroke-width="3.4" rx="1"/>
<rect x="312.2" y="1137.5" width="15.8" height="15.8" fill="#fff" stroke="#000" stroke-width="3.4" rx="1"/>
<rect x="423.6" y="1132.2" width="15.8" height="15.8" fill="#fff" stroke="#000" stroke-width="3.4" rx="1"/>
<rect x="535.0" y="1110.6" width="15.8" height="15.8" fill="#fff" stroke="#000" stroke-width="3.4" rx="1"/>
<rect x="646.4" y="1029.0" width="15.8" height="15.8" fill="#fff" stroke="#000" stroke-width="3.4" rx="1"/>
<rect x="757.8" y="789.5" width="15.8" height="15.8" fill="#fff" stroke="#000" stroke-width="3.4" rx="1"/>
<polygon points="208.7,1138.0 216.2,1150.9 201.2,1150.9" fill="#fff" stroke="#3aaa35" stroke-width="3.6" stroke-linejoin="round"/>
<polygon points="320.1,1137.5 327.6,1150.4 312.6,1150.4" fill="#fff" stroke="#3aaa35" stroke-width="3.6" stroke-linejoin="round"/>
<polygon points="431.5,1132.7 439.0,1145.6 424.0,1145.6" fill="#fff" stroke="#3aaa35" stroke-width="3.6" stroke-linejoin="round"/>
<polygon points="542.9,1110.6 550.4,1123.5 535.4,1123.5" fill="#fff" stroke="#3aaa35" stroke-width="3.6" stroke-linejoin="round"/>
<polygon points="654.3,1033.3 661.8,1046.2 646.8,1046.2" fill="#fff" stroke="#3aaa35" stroke-width="3.6" stroke-linejoin="round"/>
<polygon points="765.7,797.2 773.2,810.1 758.2,810.1" fill="#fff" stroke="#3aaa35" stroke-width="3.6" stroke-linejoin="round"/>
<circle cx="208.7" cy="1145.9" r="8.2" fill="none" stroke="#e60012" stroke-width="4.6"/>
<circle cx="320.1" cy="1145.4" r="8.2" fill="none" stroke="#e60012" stroke-width="4.6"/>
<circle cx="431.5" cy="1139.1" r="8.2" fill="none" stroke="#e60012" stroke-width="4.6"/>
<circle cx="542.9" cy="1116.1" r="8.2" fill="none" stroke="#e60012" stroke-width="4.6"/>
<circle cx="654.3" cy="1033.5" r="8.2" fill="none" stroke="#e60012" stroke-width="4.6"/>
<circle cx="765.7" cy="780.6" r="8.2" fill="none" stroke="#e60012" stroke-width="4.6"/>
<g stroke-width="4.6" stroke-linecap="round">
<line x1="222" y1="794.7" x2="246" y2="794.7" stroke="#000" stroke-width="3"/><line x1="273" y1="794.7" x2="297" y2="794.7" stroke="#000" stroke-width="3"/>
<line x1="223" y1="835.2" x2="238" y2="835.2" stroke="#3aaa35"/><line x1="271" y1="835.2" x2="286" y2="835.2" stroke="#3aaa35"/>
<line x1="223" y1="876" x2="231" y2="876" stroke="#e60012"/><line x1="244.8" y1="876" x2="244.8" y2="876" stroke="#e60012"/><line x1="274" y1="876" x2="281.5" y2="876" stroke="#e60012"/><line x1="295.7" y1="876" x2="295.7" y2="876" stroke="#e60012"/>
</g>
<rect x="252.3" y="787.4" width="14.4" height="14.5" fill="none" stroke="#000" stroke-width="4" rx="1"/>
<polygon points="259.5,825.9 268.0,840.2 251.0,840.2" fill="#fff" stroke="#3aaa35" stroke-width="3.6" stroke-linejoin="round"/>
<circle cx="259.6" cy="876" r="8.4" fill="none" stroke="#e60012" stroke-width="4.6"/>
<text transform="translate(66.33,28.23) scale(0.3922,0.3353)" font-family="Liberation Serif" font-size="100" font-weight="normal" font-style="normal" fill="#000" stroke="#fff" stroke-width="1.15">0.10</text>
<text transform="translate(66.33,134.32) scale(0.3922,0.3403)" font-family="Liberation Serif" font-size="100" font-weight="normal" font-style="normal" fill="#000" stroke="#fff" stroke-width="1.15">0.08</text>
<text transform="translate(66.34,240.42) scale(0.3899,0.3403)" font-family="Liberation Serif" font-size="100" font-weight="normal" font-style="normal" fill="#000" stroke="#fff" stroke-width="1.15">0.06</text>
<text transform="translate(66.35,346.52) scale(0.3876,0.3403)" font-family="Liberation Serif" font-size="100" font-weight="normal" font-style="normal" fill="#000" stroke="#fff" stroke-width="1.16">0.04</text>
<text transform="translate(66.31,452.62) scale(0.3970,0.3403)" font-family="Liberation Serif" font-size="100" font-weight="normal" font-style="normal" fill="#000" stroke="#fff" stroke-width="1.13">0.02</text>
<text transform="translate(115.68,559.22) scale(0.3548,0.3418)" font-family="Liberation Serif" font-size="100" font-weight="normal" font-style="normal" fill="#000" stroke="#fff" stroke-width="1.27">0</text>
<text transform="translate(38.00,360.80) rotate(-90) scale(0.4189,0.3508)" font-family="Liberation Serif" font-size="100" font-weight="normal" font-style="italic" fill="#000" stroke="#fff" stroke-width="1.07">I</text>
<text transform="translate(43.08,345.03) rotate(-90) scale(0.2825,0.2612)" font-family="Liberation Serif" font-size="100" font-weight="normal" font-style="normal" fill="#000" stroke="#fff" stroke-width="1.59">C</text>
<text transform="translate(38.54,311.14) rotate(-90) scale(0.3346,0.3744)" font-family="Liberation Serif" font-size="100" font-weight="normal" font-style="normal" fill="#000" stroke="#fff" stroke-width="1.20">(</text>
<text transform="translate(38.88,297.66) rotate(-90) scale(0.3557,0.3754)" font-family="Liberation Serif" font-size="100" font-weight="normal" font-style="normal" fill="#000" stroke="#fff" stroke-width="1.20">A</text>
<text transform="translate(45.60,268.40) rotate(-90) scale(0.5071,0.5000)" font-family="Liberation Serif" font-size="100" font-weight="normal" font-style="normal" fill="#000" stroke="#fff" stroke-width="0.89">/</text>
<text transform="translate(38.18,251.64) rotate(-90) scale(0.3855,0.3167)" font-family="Liberation Serif" font-size="100" font-weight="normal" font-style="normal" fill="#000" stroke="#fff" stroke-width="1.17">cm</text>
<text transform="translate(28.80,204.12) rotate(-90) scale(0.2800,0.2569)" font-family="Liberation Serif" font-size="100" font-weight="normal" font-style="normal" fill="#000" stroke="#fff" stroke-width="1.61">2</text>
<text transform="translate(38.78,189.30) rotate(-90) scale(0.3346,0.3722)" font-family="Liberation Serif" font-size="100" font-weight="normal" font-style="normal" fill="#000" stroke="#fff" stroke-width="1.21">)</text>
<text transform="translate(132.77,591.94) scale(0.3571,0.3313)" font-family="Liberation Serif" font-size="100" font-weight="normal" font-style="normal" fill="#000" stroke="#fff" stroke-width="1.26">0</text>
<text transform="translate(252.52,591.94) scale(0.3851,0.3313)" font-family="Liberation Serif" font-size="100" font-weight="normal" font-style="normal" fill="#000" stroke="#fff" stroke-width="1.17">300</text>
<text transform="translate(390.82,591.94) scale(0.3824,0.3313)" font-family="Liberation Serif" font-size="100" font-weight="normal" font-style="normal" fill="#000" stroke="#fff" stroke-width="1.18">600</text>
<text transform="translate(529.17,591.94) scale(0.3776,0.3313)" font-family="Liberation Serif" font-size="100" font-weight="normal" font-style="normal" fill="#000" stroke="#fff" stroke-width="1.19">900</text>
<text transform="translate(657.43,591.95) scale(0.3850,0.3265)" font-family="Liberation Serif" font-size="100" font-weight="normal" font-style="normal" fill="#000" stroke="#fff" stroke-width="1.17">1200</text>
<text transform="translate(396.39,635.30) scale(0.3818,0.3478)" font-family="Liberation Serif" font-size="100" font-weight="normal" font-style="italic" fill="#000" stroke="#fff" stroke-width="1.18">V</text>
<text transform="translate(418.03,640.61) scale(0.2924,0.2433)" font-family="Liberation Serif" font-size="100" font-weight="normal" font-style="normal" fill="#000" stroke="#fff" stroke-width="1.54">CE</text>
<text transform="translate(469.22,636.07) scale(0.3946,0.3633)" font-family="Liberation Serif" font-size="100" font-weight="normal" font-style="normal" fill="#000" stroke="#fff" stroke-width="1.14">(V)</text>
<text transform="translate(684.38,54.01) scale(0.4058,0.3711)" font-family="Liberation Serif" font-size="100" font-weight="normal" font-style="normal" fill="#000" stroke="#fff" stroke-width="1.11">(a)</text>
<text transform="translate(248.86,56.73) scale(0.4098,0.3373)" font-family="Liberation Serif" font-size="100" font-weight="normal" font-style="normal" fill="#000" stroke="#fff" stroke-width="1.10">CSTBT</text>
<text transform="translate(392.87,56.16) scale(0.4260,0.3224)" font-family="Liberation Serif" font-size="100" font-weight="normal" font-style="italic" fill="#000" stroke="#fff" stroke-width="1.06">BV</text>
<text transform="translate(448.65,61.97) scale(0.5298,0.4080)" font-family="Liberation Serif" font-size="100" font-weight="normal" font-style="normal" fill="#000" stroke="#fff" stroke-width="0.85">=</text>
<text transform="translate(483.82,56.54) scale(0.3872,0.3324)" font-family="Liberation Serif" font-size="100" font-weight="normal" font-style="normal" fill="#000" stroke="#fff" stroke-width="1.16">1300</text>
<text transform="translate(572.61,56.35) scale(0.3857,0.3254)" font-family="Liberation Serif" font-size="100" font-weight="normal" font-style="normal" fill="#000" stroke="#fff" stroke-width="1.17">V</text>
<text transform="translate(249.12,93.60) scale(0.3917,0.3430)" font-family="Liberation Serif" font-size="100" font-weight="normal" font-style="normal" fill="#000" stroke="#fff" stroke-width="1.15">p-ring</text>
<text transform="translate(362.18,93.54) scale(0.4176,0.3313)" font-family="Liberation Serif" font-size="100" font-weight="normal" font-style="italic" fill="#000" stroke="#fff" stroke-width="1.08">BV</text>
<text transform="translate(416.63,99.27) scale(0.5340,0.4080)" font-family="Liberation Serif" font-size="100" font-weight="normal" font-style="normal" fill="#000" stroke="#fff" stroke-width="0.84">=</text>
<text transform="translate(452.36,93.56) scale(0.3825,0.3388)" font-family="Liberation Serif" font-size="100" font-weight="normal" font-style="normal" fill="#000" stroke="#fff" stroke-width="1.18">1374</text>
<text transform="translate(542.53,93.73) scale(0.3686,0.3343)" font-family="Liberation Serif" font-size="100" font-weight="normal" font-style="normal" fill="#000" stroke="#fff" stroke-width="1.22">V</text>
<text transform="translate(248.94,137.64) scale(0.3894,0.3313)" font-family="Liberation Serif" font-size="100" font-weight="normal" font-style="normal" fill="#000" stroke="#fff" stroke-width="1.16">IGT</text>
<text transform="translate(330.04,137.16) scale(0.4588,0.3179)" font-family="Liberation Serif" font-size="100" font-weight="normal" font-style="italic" fill="#000" stroke="#fff" stroke-width="0.98">BV</text>
<text transform="translate(388.72,142.97) scale(0.5553,0.4080)" font-family="Liberation Serif" font-size="100" font-weight="normal" font-style="normal" fill="#000" stroke="#fff" stroke-width="0.81">=</text>
<text transform="translate(425.03,138.06) scale(0.3861,0.3373)" font-family="Liberation Serif" font-size="100" font-weight="normal" font-style="normal" fill="#000" stroke="#fff" stroke-width="1.17">1373</text>
<text transform="translate(513.30,137.36) scale(0.4029,0.3209)" font-family="Liberation Serif" font-size="100" font-weight="normal" font-style="normal" fill="#000" stroke="#fff" stroke-width="1.12">V</text>
<text transform="translate(335.04,182.19) scale(0.2535,0.2340)" font-family="Liberation Serif" font-size="100" font-weight="normal" font-style="normal" fill="#000">Electric field (10<tspan font-size="65" dy="-30">5</tspan><tspan dy="30"> V/cm)</tspan></text>
<text transform="translate(237.03,217.47) scale(0.2429,0.2333)" font-family="Liberation Serif" font-size="100" font-weight="normal" font-style="normal" fill="#000">2.4</text>
<text transform="translate(302.43,217.24) scale(0.2427,0.2299)" font-family="Liberation Serif" font-size="100" font-weight="normal" font-style="normal" fill="#000">2.0</text>
<text transform="translate(365.94,217.25) scale(0.2513,0.2265)" font-family="Liberation Serif" font-size="100" font-weight="normal" font-style="normal" fill="#000">1.6</text>
<text transform="translate(431.66,217.47) scale(0.2600,0.2299)" font-family="Liberation Serif" font-size="100" font-weight="normal" font-style="normal" fill="#000">1.2</text>
<text transform="translate(499.81,217.24) scale(0.2487,0.2299)" font-family="Liberation Serif" font-size="100" font-weight="normal" font-style="normal" fill="#000">8.0</text>
<text transform="translate(565.20,217.24) scale(0.2496,0.2299)" font-family="Liberation Serif" font-size="100" font-weight="normal" font-style="normal" fill="#000">4.0</text>
<text transform="translate(628.88,217.24) scale(0.2556,0.2299)" font-family="Liberation Serif" font-size="100" font-weight="normal" font-style="normal" fill="#000">0.0</text>
<text transform="translate(169.34,528.04) scale(0.2390,0.2299)" font-family="Liberation Serif" font-size="100" font-weight="normal" font-style="normal" fill="#000">CSTBT</text>
<text transform="translate(359.82,528.63) scale(0.2386,0.2512)" font-family="Liberation Serif" font-size="100" font-weight="normal" font-style="normal" fill="#000">p-ring</text>
<text transform="translate(549.49,528.54) scale(0.2516,0.2313)" font-family="Liberation Serif" font-size="100" font-weight="normal" font-style="normal" fill="#000">IGT</text>
<text transform="translate(87.39,681.01) scale(0.3905,0.3456)" font-family="Liberation Serif" font-size="100" font-weight="normal" font-style="normal" fill="#000" stroke="#fff" stroke-width="1.15">100</text>
<text transform="translate(107.36,777.00) scale(0.3859,0.3507)" font-family="Liberation Serif" font-size="100" font-weight="normal" font-style="normal" fill="#000" stroke="#fff" stroke-width="1.17">80</text>
<text transform="translate(107.36,873.00) scale(0.3859,0.3507)" font-family="Liberation Serif" font-size="100" font-weight="normal" font-style="normal" fill="#000" stroke="#fff" stroke-width="1.17">60</text>
<text transform="translate(108.14,969.00) scale(0.3777,0.3507)" font-family="Liberation Serif" font-size="100" font-weight="normal" font-style="normal" fill="#000" stroke="#fff" stroke-width="1.19">40</text>
<text transform="translate(107.36,1065.00) scale(0.3859,0.3507)" font-family="Liberation Serif" font-size="100" font-weight="normal" font-style="normal" fill="#000" stroke="#fff" stroke-width="1.17">20</text>
<text transform="translate(125.78,1161.00) scale(0.4048,0.3507)" font-family="Liberation Serif" font-size="100" font-weight="normal" font-style="normal" fill="#000" stroke="#fff" stroke-width="1.11">0</text>
<text transform="translate(66.60,1036.00) rotate(-90) scale(0.4351,0.3569)" font-family="Liberation Serif" font-size="100" font-weight="normal" font-style="italic" fill="#000" stroke="#fff" stroke-width="1.03">I</text>
<text transform="translate(71.90,1021.03) rotate(-90) scale(0.2769,0.2600)" font-family="Liberation Serif" font-size="100" font-weight="normal" font-style="normal" fill="#000" stroke="#fff" stroke-width="1.62">L</text>
<text transform="translate(67.37,989.36) rotate(-90) scale(0.3654,0.3822)" font-family="Liberation Serif" font-size="100" font-weight="normal" font-style="normal" fill="#000" stroke="#fff" stroke-width="1.18">(</text>
<text transform="translate(66.60,975.57) rotate(-90) scale(0.3830,0.3561)" font-family="Liberation Serif" font-size="100" font-weight="normal" font-style="normal" fill="#000" stroke="#fff" stroke-width="1.17">mA</text>
<text transform="translate(74.39,914.80) rotate(-90) scale(0.4929,0.5106)" font-family="Liberation Serif" font-size="100" font-weight="normal" font-style="normal" fill="#000" stroke="#fff" stroke-width="0.88">/</text>
<text transform="translate(66.08,898.24) rotate(-90) scale(0.3838,0.3167)" font-family="Liberation Serif" font-size="100" font-weight="normal" font-style="normal" fill="#000" stroke="#fff" stroke-width="1.17">cm</text>
<text transform="translate(57.40,850.36) rotate(-90) scale(0.2650,0.2585)" font-family="Liberation Serif" font-size="100" font-weight="normal" font-style="normal" fill="#000" stroke="#fff" stroke-width="1.70">2</text>
<text transform="translate(67.04,835.30) rotate(-90) scale(0.3346,0.3744)" font-family="Liberation Serif" font-size="100" font-weight="normal" font-style="normal" fill="#000" stroke="#fff" stroke-width="1.20">)</text>
<text transform="translate(189.11,1229.17) scale(0.3978,0.3273)" font-family="Liberation Serif" font-size="100" font-weight="normal" font-style="normal" fill="#000" stroke="#fff" stroke-width="1.13">25</text>
<text transform="translate(299.46,1228.86) scale(0.4067,0.3224)" font-family="Liberation Serif" font-size="100" font-weight="normal" font-style="normal" fill="#000" stroke="#fff" stroke-width="1.11">50</text>
<text transform="translate(410.22,1229.17) scale(0.4112,0.3273)" font-family="Liberation Serif" font-size="100" font-weight="normal" font-style="normal" fill="#000" stroke="#fff" stroke-width="1.09">75</text>
<text transform="translate(512.51,1228.86) scale(0.3883,0.3176)" font-family="Liberation Serif" font-size="100" font-weight="normal" font-style="normal" fill="#000" stroke="#fff" stroke-width="1.16">100</text>
<text transform="translate(623.71,1229.18) scale(0.3883,0.3224)" font-family="Liberation Serif" font-size="100" font-weight="normal" font-style="normal" fill="#000" stroke="#fff" stroke-width="1.16">125</text>
<text transform="translate(735.21,1228.86) scale(0.3883,0.3176)" font-family="Liberation Serif" font-size="100" font-weight="normal" font-style="normal" fill="#000" stroke="#fff" stroke-width="1.16">150</text>
<text transform="translate(340.76,1272.79) scale(0.4197,0.3337)" font-family="Liberation Serif" font-size="100" font-weight="normal" font-style="normal" fill="#000" stroke="#fff" stroke-width="1.07">Temperature</text>
<text transform="translate(565.14,1273.55) scale(0.3394,0.3689)" font-family="Liberation Serif" font-size="100" font-weight="normal" font-style="normal" fill="#000" stroke="#fff" stroke-width="1.22">(&#176;C)</text>
<text transform="translate(738.50,710.38) scale(0.4009,0.3722)" font-family="Liberation Serif" font-size="100" font-weight="normal" font-style="normal" fill="#000" stroke="#fff" stroke-width="1.12">(b)</text>
<text transform="translate(304.76,805.21) scale(0.4098,0.3433)" font-family="Liberation Serif" font-size="100" font-weight="normal" font-style="normal" fill="#000" stroke="#fff" stroke-width="1.10">CSTBT</text>
<text transform="translate(305.61,841.34) scale(0.3946,0.3314)" font-family="Liberation Serif" font-size="100" font-weight="normal" font-style="normal" fill="#000" stroke="#fff" stroke-width="1.14">p-ring</text>
<text transform="translate(304.74,886.34) scale(0.4155,0.3299)" font-family="Liberation Serif" font-size="100" font-weight="normal" font-style="normal" fill="#000" stroke="#fff" stroke-width="1.08">IGT</text>
<text transform="translate(175.65,1084.81) scale(0.4106,0.3463)" font-family="Liberation Serif" font-size="100" font-weight="normal" font-style="italic" fill="#000" stroke="#fff" stroke-width="1.10">V</text>
<text transform="translate(197.71,1090.20) scale(0.2976,0.2507)" font-family="Liberation Serif" font-size="100" font-weight="normal" font-style="normal" fill="#000" stroke="#fff" stroke-width="1.51">GE</text>
<text transform="translate(242.19,1089.55) scale(0.5213,0.4120)" font-family="Liberation Serif" font-size="100" font-weight="normal" font-style="normal" fill="#000" stroke="#fff" stroke-width="0.86">=</text>
<text transform="translate(278.00,1086.05) scale(0.4000,0.3731)" font-family="Liberation Serif" font-size="100" font-weight="normal" font-style="normal" fill="#000" stroke="#fff" stroke-width="1.13">0</text>
<text transform="translate(310.23,1085.30) scale(0.3686,0.3507)" font-family="Liberation Serif" font-size="100" font-weight="normal" font-style="normal" fill="#000" stroke="#fff" stroke-width="1.22">V</text>
<text transform="translate(340.78,1085.82) scale(0.3800,0.4120)" font-family="Liberation Serif" font-size="100" font-weight="normal" font-style="normal" fill="#000" stroke="#fff" stroke-width="1.09">,</text>
<text transform="translate(363.93,1084.63) scale(0.4545,0.3373)" font-family="Liberation Serif" font-size="100" font-weight="normal" font-style="italic" fill="#000" stroke="#fff" stroke-width="0.99">V</text>
<text transform="translate(385.66,1090.49) scale(0.2857,0.2537)" font-family="Liberation Serif" font-size="100" font-weight="normal" font-style="normal" fill="#000" stroke="#fff" stroke-width="1.58">CE</text>
<text transform="translate(428.04,1090.09) scale(0.5128,0.4280)" font-family="Liberation Serif" font-size="100" font-weight="normal" font-style="normal" fill="#000" stroke="#fff" stroke-width="0.88">=</text>
<text transform="translate(463.34,1085.22) scale(0.3840,0.3412)" font-family="Liberation Serif" font-size="100" font-weight="normal" font-style="normal" fill="#000" stroke="#fff" stroke-width="1.17">1200</text>
<text transform="translate(549.47,1084.82) scale(0.4271,0.3403)" font-family="Liberation Serif" font-size="100" font-weight="normal" font-style="normal" fill="#000" stroke="#fff" stroke-width="1.05">V</text>
</svg></body></html>
